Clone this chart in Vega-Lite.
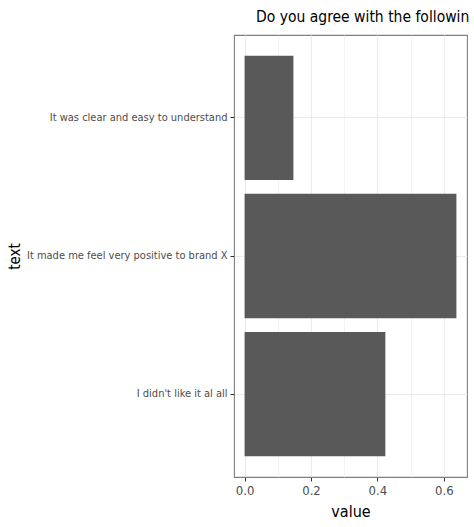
{
  "$schema": "https://vega.github.io/schema/vega-lite/v6.json",
  "autosize": {"type": "none"},
  "width": 233,
  "height": 442,
  "padding": {"left": 234, "top": 35, "right": 7, "bottom": 50},
  "background": "white",
  "title": {
    "text": "Do you agree with the followin",
    "anchor": "start",
    "frame": "group",
    "dx": 22,
    "offset": 10,
    "font": "DejaVu Sans Condensed",
    "fontSize": 15.5,
    "fontWeight": "normal",
    "color": "black"
  },
  "config": {
    "font": "DejaVu Sans Condensed",
    "view": {"stroke": "#7f7f7f", "strokeWidth": 1.1}
  },
  "data": {
    "values": [
      {"text": "It was clear and easy to understand", "value": 0.147},
      {"text": "It made me feel very positive to brand X", "value": 0.638},
      {"text": "I didn't like it al all", "value": 0.424}
    ]
  },
  "mark": {"type": "bar", "color": "#595959"},
  "encoding": {
    "y": {
      "field": "text",
      "type": "nominal",
      "sort": "descending",
      "scale": {"paddingInner": 0.1, "paddingOuter": 0.15},
      "axis": {
        "title": "text",
        "titleFontSize": 15,
        "titleFontWeight": "normal",
        "titleColor": "black",
        "titleX": -220,
        "titleY": 221,
        "titleAngle": -90,
        "titleAlign": "center",
        "titleBaseline": "middle",
        "labelFontSize": 11,
        "labelColor": "#4d4d4d",
        "labelPadding": 3,
        "labelLimit": 300,
        "tickColor": "#333333",
        "tickSize": 4,
        "domain": false,
        "grid": true,
        "gridColor": "#ebebeb",
        "gridWidth": 1.1
      }
    },
    "x": {
      "field": "value",
      "type": "quantitative",
      "scale": {"domain": [-0.0319, 0.6699], "nice": false, "zero": false},
      "axis": {
        "title": "value",
        "titleFontSize": 16,
        "titleFontWeight": "normal",
        "titleColor": "black",
        "titlePadding": 6,
        "values": [0, 0.1, 0.2, 0.3, 0.4, 0.5, 0.6],
        "labelExpr": "round(datum.value*10) % 2 === 0 ? format(datum.value, '.1f') : ''",
        "labelFontSize": 13,
        "labelColor": "#4d4d4d",
        "labelPadding": 3,
        "labelFlush": false,
        "tickColor": "#333333",
        "tickSize": 4,
        "tickOpacity": {"condition": {"test": "round(datum.value*10) % 2 === 0", "value": 1}, "value": 0},
        "domain": false,
        "grid": true,
        "gridColor": "#ebebeb",
        "gridWidth": {"condition": {"test": "round(datum.value*10) % 2 === 0", "value": 1.1}, "value": 0.6}
      }
    }
  }
}
